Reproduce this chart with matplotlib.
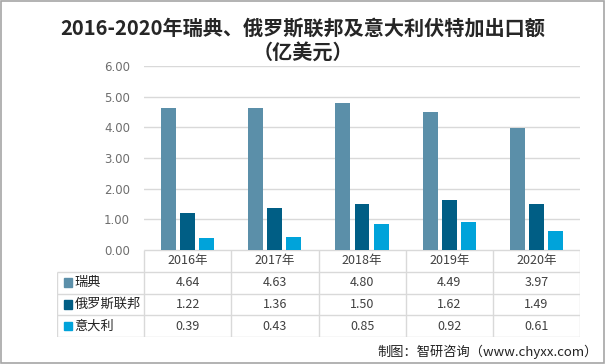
import numpy as np
import matplotlib
matplotlib.use("Agg")
import matplotlib.pyplot as plt
from matplotlib.patches import Rectangle

plt.rcParams['font.family'] = ['Noto Sans CJK SC', 'DejaVu Sans']

years = ['2016年', '2017年', '2018年', '2019年', '2020年']
series_names = ['瑞典', '俄罗斯联邦', '意大利']
sweden = [4.64, 4.63, 4.80, 4.49, 3.97]
russia = [1.22, 1.36, 1.50, 1.62, 1.49]
italy = [0.39, 0.43, 0.85, 0.92, 0.61]
colors = ['#5B8FA9', '#005E85', '#00A3DA']
yticks = [0, 1, 2, 3, 4, 5, 6]

W, H = 605, 364
fig = plt.figure(figsize=(W / 100, H / 100), dpi=100)
fig.patch.set_facecolor('white')

def px(l, r, t, b):
    # pixel box -> figure fraction [left, bottom, width, height]
    return [l / W, (H - b) / H, (r - l) / W, (b - t) / H]

grid_c = '#D9D9D9'

# bar chart
ax = fig.add_axes(px(144, 580, 66, 250))
x = np.arange(len(years))
data = [sweden, russia, italy]
offsets = [-0.22, 0, 0.22]
for vals, off, c in zip(data, offsets, colors):
    ax.bar(x + off, vals, width=0.172, color=c, zorder=3)
ax.set_xlim(-0.5, 4.5)
ax.set_ylim(0, 6)
ax.set_yticks(yticks)
ax.set_yticklabels(['%.2f' % v for v in yticks], color='#6E6E6E', fontsize=8.5,
                   family=['DejaVu Sans'])
ax.tick_params(axis='y', length=0, pad=10)
ax.set_xticks([])
ax.grid(axis='y', color=grid_c, linewidth=1, zorder=0)
for s in ['top', 'right', 'left', 'bottom']:
    ax.spines[s].set_visible(False)

# data table under the bars
tx = fig.add_axes(px(57, 580, 250, 337))
tx.set_xlim(-1.5, 4.5)
tx.set_ylim(0, 4)
tx.axis('off')
tx.hlines([0, 1, 2, 3], -1.5, 4.5, color=grid_c, linewidth=1)
tx.hlines([4], -0.5, 4.5, color=grid_c, linewidth=1)
tx.vlines([-1.5], 0, 3, color=grid_c, linewidth=1)
tx.vlines(np.arange(-0.5, 5, 1), 0, 4, color=grid_c, linewidth=1)
for i, yr in enumerate(years):
    tx.text(i, 3.5, yr, ha='center', va='center', fontsize=9, color='#404040')
for r, (name, vals, c) in enumerate(zip(series_names, data, colors)):
    yc = 2.5 - r
    tx.add_patch(Rectangle((-1.42, yc - 0.2), 0.09, 0.4, color=c, clip_on=False))
    tx.text(-1.3, yc, name, ha='left', va='center', fontsize=9.5, color='#222222')
    for i, v in enumerate(vals):
        tx.text(i, yc, '%.2f' % v, ha='center', va='center', fontsize=9,
                color='#404040')

# title
fig.text(0.5, (H - 28) / H, '2016-2020年瑞典、俄罗斯联邦及意大利伏特加出口额',
         ha='center', va='center', fontsize=14.5, fontweight='bold', color='#262626')
fig.text(0.5, (H - 52) / H, '（亿美元）', ha='center', va='center',
         fontsize=14.5, fontweight='bold', color='#262626')

# source
fig.text(598 / W, (H - 352) / H, '制图：智研咨询（www.chyxx.com）', ha='right',
         va='center', fontsize=9.5, color='#222222')

# outer border
fig.add_artist(Rectangle((0.001, 0.002), 0.997, 0.995, transform=fig.transFigure,
                         fill=False, edgecolor='#A6A6A6', linewidth=1.2))

fig.savefig('out.png', dpi=100)
